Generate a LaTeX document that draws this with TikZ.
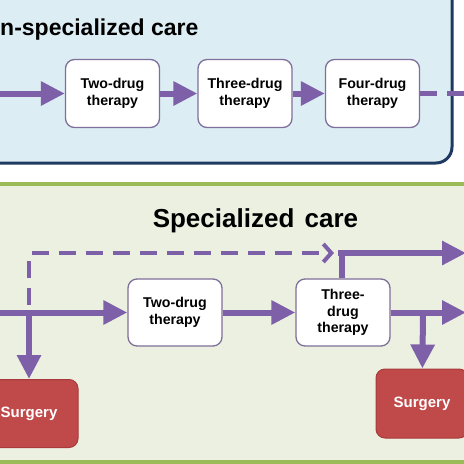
\documentclass[tikz,border=0pt]{standalone}
\usepackage{fontspec}
\setmainfont{Liberation Sans}
\usepackage{tikz}
\usetikzlibrary{arrows.meta,calc,positioning}
\definecolor{flowpurple}{HTML}{7D60A8}
\definecolor{boxline}{HTML}{7F6F9B}
\definecolor{navy}{HTML}{1F3A60}
\definecolor{bluefill}{HTML}{DCEEF4}
\definecolor{greenline}{HTML}{9BBB59}
\definecolor{greenfill}{HTML}{EBF0E1}
\definecolor{surgred}{HTML}{C0494A}
\definecolor{surgedge}{HTML}{A83A3C}

\begin{document}
\begin{tikzpicture}[x=1pt,y=-1pt,
  drugbox/.style={draw=boxline,fill=white,line width=1.3pt,rounded corners=9pt,minimum width=94pt,minimum height=68pt,align=center,inner sep=2pt,font=\fontsize{14.2}{16.5}\selectfont\bfseries},
  surgbox/.style={draw=surgedge,fill=surgred,line width=1pt,rounded corners=9pt,minimum height=68pt,text=white,font=\fontsize{15}{18}\selectfont\bfseries},
  flow/.style={draw=flowpurple,line width=6pt,-{Triangle[length=24pt,width=23pt]}},
  dashflow/.style={draw=flowpurple,line width=4.5pt,dash pattern=on 17pt off 10pt}]
\useasboundingbox (0,0) rectangle (464,464);
\clip (0,0) rectangle (464,464);
% panels
\draw[navy,fill=bluefill,line width=3pt,rounded corners=16pt] (-40,-20) rectangle (452,163);
\draw[greenline,fill=greenfill,line width=3.5pt] (-40,184) rectangle (504,462);
\node[anchor=base west,inner sep=0pt,font=\fontsize{23}{26}\selectfont\bfseries] (nstitle) at (0,35) {n-specialized care};
\node[anchor=base,inner sep=0pt,font=\fontsize{26}{29}\selectfont\bfseries] (sptitle) at (255.5,227) {Specialized\hspace{0.12em} care};
% non-specialized flow
\node[drugbox] (twoA) at (112.5,93.5) {Two-drug\\therapy};
\node[drugbox] (threeA) at (245,93.5) {Three-drug\\therapy};
\node[drugbox] (fourA) at (372.5,93.5) {Four-drug\\therapy};
\coordinate (startA) at (0,93.5);
\coordinate (endA) at (466,93.5);
\draw[flow] (startA) -- (twoA);
\draw[flow] (twoA) -- (threeA);
\draw[flow] (threeA) -- (fourA);
\draw[dashflow,line width=5pt] (fourA.east) -- (endA);
% specialized flow
\node[drugbox,minimum height=67pt] (twoB) at (175,312.5) {Two-drug\\therapy};
\node[drugbox,minimum height=67pt] (threeB) at (343,312.5) {Three-\\drug\\therapy};
\node[surgbox,minimum width=98pt] (surgL) at (29,413.5) {Surgery};
\node[surgbox,minimum width=92pt,minimum height=69pt] (surgR) at (422,403.5) {Surgery};
\coordinate (startB) at (0,312.5);
\coordinate (splitL) at (29,312.5);
\coordinate (splitR) at (423,312.5);
\coordinate (endB) at (466,312.5);
\coordinate (cornerL) at (29,253);
\coordinate (dashend) at (334,253);
\coordinate (upB) at (342,253);
\coordinate (topend) at (466,253);
\draw[dashflow,-{Straight Barb[length=8pt,width=18pt,line width=4pt]}] ($(splitL)+(0,-8)$) -- (cornerL) -- (dashend);
\draw[flow] (startB) -- (twoB);
\draw[flow] (twoB) -- (threeB);
\draw[flow] (threeB) -- (endB);
\draw[flow] (splitL) -- (surgL);
\draw[flow] (splitR) -- (surgR);
\draw[draw=flowpurple,line width=6pt] (threeB.north -| upB) -- (upB);
\draw[flow] ($(upB)+(-4,0)$) -- (topend);
\end{tikzpicture}
\end{document}
